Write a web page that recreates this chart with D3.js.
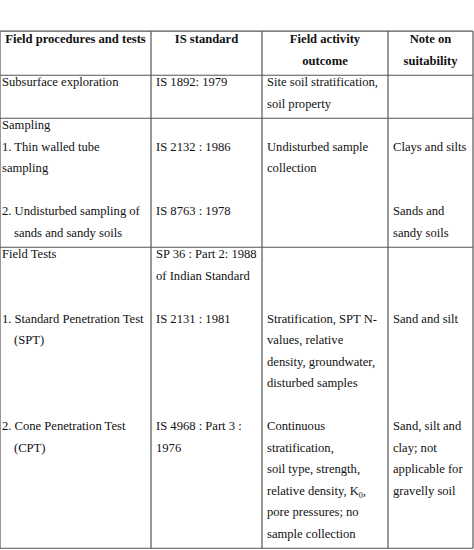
<!DOCTYPE html>
<html><head><meta charset="utf-8">
<script src="https://cdn.jsdelivr.net/npm/d3@7"></script>
<style>body{margin:0;background:#fff}text{font-family:"Liberation Serif",serif;font-size:12.6px;fill:#111}</style>
</head><body><div id="root"></div>
<script>
// column boundaries (px) and row boundaries (in text-line units)
const colEdges = [0, 151, 262, 388, 473];
const rowEdges = [-0.55, 1.5, 3.5, 9.5, 23.5];
const headers = [["Field procedures and tests"], ["IS standard"], ["Field activity", "outcome"], ["Note on", "suitability"]];

// [column, line, text, indent]
const cells = [
  [0, 2, "Subsurface exploration", 0], [1, 2, "IS 1892: 1979", 0],
  [2, 2, "Site soil stratification,", 0], [2, 3, "soil property", 0],
  [0, 4, "Sampling", 0],
  [0, 5, "1. Thin walled tube", 0], [0, 6, "sampling", 0],
  [1, 5, "IS 2132 : 1986", 0], [2, 5, "Undisturbed sample", 0], [2, 6, "collection", 0],
  [3, 5, "Clays and silts", 0],
  [0, 8, "2. Undisturbed sampling of", 0], [0, 9, "sands and sandy soils", 12],
  [1, 8, "IS 8763 : 1978", 0], [3, 8, "Sands and", 0], [3, 9, "sandy soils", 0],
  [0, 10, "Field Tests", 0], [1, 10, "SP 36 : Part 2: 1988", 0], [1, 11, "of Indian Standard", 0],
  [0, 13, "1. Standard Penetration Test", 0], [0, 14, "(SPT)", 12],
  [1, 13, "IS 2131 : 1981", 0],
  [2, 13, "Stratification, SPT N-", 0], [2, 14, "values, relative", 0],
  [2, 15, "density, groundwater,", 0], [2, 16, "disturbed samples", 0],
  [3, 13, "Sand and silt", 0],
  [0, 18, "2. Cone Penetration Test", 0], [0, 19, "(CPT)", 12],
  [1, 18, "IS 4968 : Part 3 :", 0], [1, 19, "1976", 0],
  [2, 18, "Continuous", 0], [2, 19, "stratification,", 0], [2, 20, "soil type, strength,", 0],
  [2, 21, "relative density, K#,", 0], [2, 22, "pore pressures; no", 0], [2, 23, "sample collection", 0],
  [3, 18, "Sand, silt and", 0], [3, 19, "clay; not", 0], [3, 20, "applicable for", 0], [3, 21, "gravelly soil", 0]
];

const W = 474, H = 550;
const y = d3.scaleLinear().domain([0, 23]).range([43, 537.5]);
const pad = [2, 5, 5, 5];
const svg = d3.select("#root").append("svg").attr("width", W).attr("height", H);

const g = svg.append("g").attr("stroke", "#555").attr("stroke-width", 1.2);
g.selectAll("line.h").data(rowEdges).join("line")
  .attr("x1", colEdges[0]).attr("x2", colEdges[4])
  .attr("y1", d => y(d)).attr("y2", d => y(d));
g.selectAll("line.v").data(colEdges).join("line")
  .attr("x1", d => d).attr("x2", d => d)
  .attr("y1", y(rowEdges[0])).attr("y2", y(rowEdges[4]));

headers.forEach((lines, c) => {
  lines.forEach((t, i) => {
    svg.append("text").attr("x", (colEdges[c] + colEdges[c + 1]) / 2).attr("y", y(i))
      .attr("text-anchor", "middle").attr("font-weight", "bold").text(t);
  });
});

svg.selectAll("text.cell").data(cells).join("text").attr("class", "cell")
  .attr("x", d => colEdges[d[0]] + pad[d[0]] + d[3]).attr("y", d => y(d[1]))
  .each(function(d) {
    const parts = d[2].split("#");
    const t = d3.select(this);
    t.append("tspan").text(parts[0]);
    if (parts.length > 1) {
      t.append("tspan").attr("dy", 3).attr("font-size", "8px").text("0");
      t.append("tspan").attr("dy", -3).text(parts[1]);
    }
  });
</script></body></html>
